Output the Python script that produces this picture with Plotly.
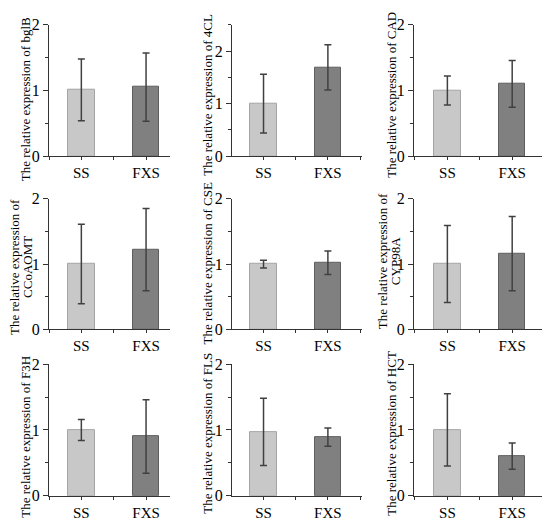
import plotly.graph_objects as go

# relative expression of each gene, SS vs FXS (mean and error)
genes = ["bglB", "4CL", "CAD", "CCoAOMT", "CSE", "CYP98A", "F3H", "FLS", "HCT"]
groups = ["SS", "FXS"]
ss_mean = [1.01, 1.00, 1.00, 1.00, 1.00, 1.00, 1.00, 0.97, 1.00]
ss_err = [0.47, 0.56, 0.22, 0.61, 0.06, 0.59, 0.16, 0.51, 0.55]
fxs_mean = [1.05, 1.69, 1.10, 1.22, 1.02, 1.16, 0.90, 0.89, 0.60]
fxs_err = [0.52, 0.43, 0.355, 0.63, 0.18, 0.57, 0.56, 0.14, 0.20]

# the page body has an 8px margin, so the figure is sized to fit inside it
OFF = 8
W, H = 550 - 2 * OFF, 532 - 2 * OFF
FONT = "Liberation Serif"
AXC = "#333333"


def px(x):
    return min(max((x - OFF) / W, 0), 1)


def py(y):
    return min(max(1 - (y - OFF) / H, 0), 1)


# layout (pixel positions in the target picture)
x_dom = [(49, 170), (232, 362), (414, 542)]
x_rng = [[-0.5, 1.37], [-0.49, 1.53], [-0.515, 1.46]]
y_dom = [(153, 17), (332, 197), (504, 368)]
y_top = [2, 2.5, 2, 2, 2, 2, 2, 2, 2]
title_pos = [(25, 94), (207.5, 90), (391.5, 90),
             (21, 268), (208, 264), (389, 262),
             (26, 443), (208, 440), (392, 440)]
two_line = {"CCoAOMT", "CYP98A"}
pos = list(range(len(groups)))

fig = go.Figure()
annotations = []
for i, g in enumerate(genes):
    ax = "" if i == 0 else str(i + 1)
    r, c = divmod(i, 3)
    fig.add_trace(go.Bar(
        x=pos,
        y=[ss_mean[i], fxs_mean[i]],
        width=0.41,
        marker=dict(color=["#c8c8c8", "#808080"],
                    line=dict(color=["#a4a4a4", "#5e5e5e"], width=1)),
        error_y=dict(type="data", array=[ss_err[i], fxs_err[i]],
                     color="#404040", thickness=1.5, width=3.5),
        xaxis="x" + ax, yaxis="y" + ax, showlegend=False,
    ))
    fig.layout["xaxis" + ax] = dict(
        domain=[px(x_dom[c][0]), px(x_dom[c][1])], range=x_rng[c],
        anchor="y" + ax, showline=True, linecolor=AXC, linewidth=1.3,
        tickvals=pos, ticktext=groups,
        ticks="outside", ticklen=3, tickcolor=AXC, tickwidth=1.2,
        minor=dict(tick0=-0.5, dtick=1, ticks="outside", ticklen=3,
                   tickcolor=AXC, tickwidth=1.2),
        showgrid=False, zeroline=False,
        tickfont=dict(family=FONT, size=15, color="#000000"),
    )
    fig.layout["yaxis" + ax] = dict(
        domain=[py(y_dom[r][0]), py(y_dom[r][1])],
        range=[0, y_top[i]], anchor="x" + ax,
        showline=True, linecolor=AXC, linewidth=1.3,
        ticks="outside", ticklen=5, tickcolor=AXC, tickwidth=1.3,
        tick0=0, dtick=1,
        minor=dict(tick0=0, dtick=0.5, ticks="outside", ticklen=3,
                   tickcolor=AXC, tickwidth=1.2),
        showgrid=False, zeroline=False,
        tickfont=dict(family=FONT, size=16, color="#000000"),
    )
    tx, ty = title_pos[i]
    if g in two_line:
        lines = ["The relative expression of", g]
        offs = [-6.5, 6.5]
    else:
        lines = ["The relative expression of " + g]
        offs = [0]
    for t, o in zip(lines, offs):
        annotations.append(dict(
            text=t, x=px(tx + o), y=py(ty), xref="paper", yref="paper",
            textangle=-90, showarrow=False, xanchor="center", yanchor="middle",
            font=dict(family=FONT, size=13, color="#000000"),
        ))

fig.update_layout(
    width=W, height=H,
    margin=dict(l=0, r=0, t=0, b=0),
    paper_bgcolor="white", plot_bgcolor="white",
    annotations=annotations,
    bargap=0,
)

fig.write_html("out.html")
